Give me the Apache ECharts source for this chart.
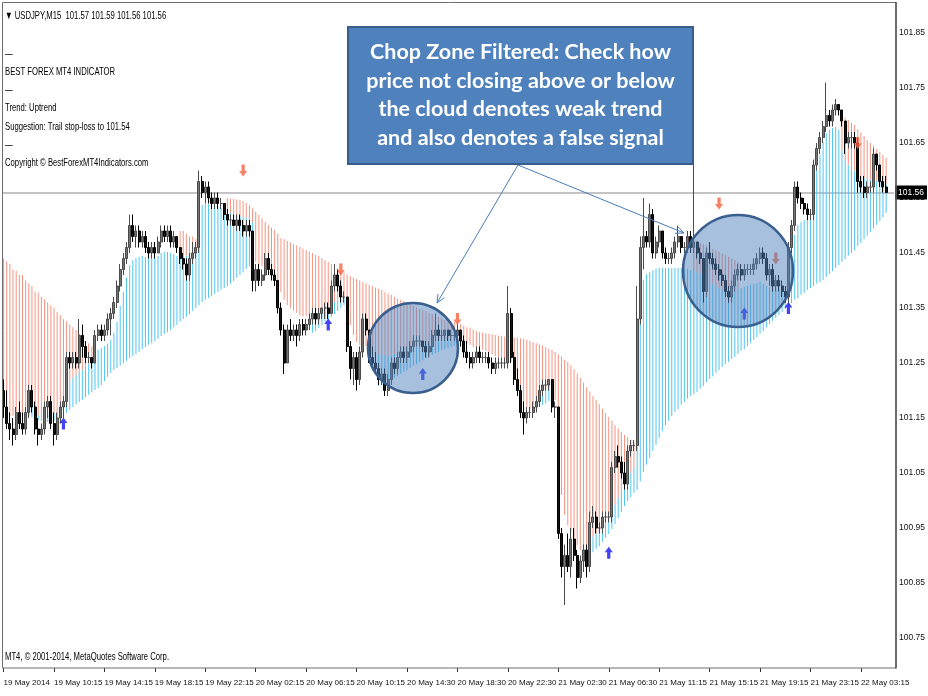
<!DOCTYPE html>
<html><head><meta charset="utf-8">
<script src="https://cdn.jsdelivr.net/npm/echarts@6/dist/echarts.min.js"></script>
<style>html,body{margin:0;padding:0;background:#fff}#c{width:928px;height:696px}</style>
</head><body><div id="c"></div>
<script>
const tickLabels = ['19 May 2014','19 May 10:15','19 May 14:15','19 May 18:15','19 May 22:15','20 May 02:15','20 May 06:15','20 May 10:15','20 May 14:30','20 May 18:30','20 May 22:30','21 May 02:30','21 May 06:30','21 May 11:15','21 May 15:15','21 May 19:15','21 May 23:15','22 May 03:15'];
const slotCount = 283;

const opens = [
101.20,101.17,101.14,101.13,101.12,101.16,101.14,101.13,101.16,101.20,
101.17,101.13,101.12,101.13,101.17,101.18,101.14,101.12,101.15,101.17,
101.18,101.26,101.25,101.26,101.25,101.30,101.28,101.26,101.26,101.25,
101.30,101.31,101.30,101.31,101.33,101.34,101.36,101.39,101.42,101.44,
101.46,101.50,101.48,101.49,101.47,101.48,101.46,101.45,101.46,101.45,
101.47,101.49,101.48,101.49,101.47,101.48,101.46,101.44,101.43,101.41,
101.44,101.45,101.46,101.58,101.56,101.57,101.55,101.54,101.55,101.54,
101.54,101.52,101.51,101.51,101.50,101.51,101.50,101.49,101.50,101.49,
101.40,101.42,101.40,101.41,101.44,101.42,101.41,101.40,101.35,101.31,
101.25,101.31,101.30,101.31,101.30,101.32,101.31,101.32,101.33,101.34,
101.33,101.34,101.35,101.35,101.34,101.39,101.41,101.39,101.37,101.37,
101.28,101.24,101.26,101.22,101.27,101.33,101.31,101.26,101.25,101.24,
101.22,101.23,101.20,101.22,101.25,101.24,101.26,101.27,101.26,101.27,
101.28,101.29,101.29,101.29,101.28,101.27,101.28,101.30,101.31,101.30,
101.30,101.31,101.30,101.30,101.30,101.31,101.29,101.27,101.26,101.25,
101.26,101.27,101.26,101.26,101.26,101.25,101.24,101.25,101.25,101.25,
101.25,101.34,101.26,101.22,101.20,101.16,101.15,101.16,101.16,101.17,
101.18,101.20,101.21,101.21,101.22,101.17,101.17,100.94,100.88,100.90,
100.88,100.93,100.90,100.86,100.89,100.91,100.88,100.96,100.97,100.95,
100.95,100.97,100.97,100.97,101.06,101.08,101.07,101.05,101.03,101.09,
101.10,101.10,101.33,101.46,101.48,101.47,101.52,101.45,101.47,101.49,
101.45,101.44,101.44,101.45,101.47,101.48,101.46,101.46,101.48,101.46,
101.47,101.45,101.44,101.38,101.45,101.44,101.43,101.42,101.41,101.40,
101.38,101.37,101.39,101.41,101.42,101.41,101.42,101.42,101.42,101.43,
101.44,101.45,101.44,101.41,101.42,101.39,101.40,101.39,101.38,101.37,
101.46,101.50,101.57,101.55,101.54,101.53,101.52,101.52,101.61,101.64,
101.66,101.68,101.70,101.69,101.71,101.72,101.71,101.69,101.65,101.66,
101.66,101.65,101.58,101.57,101.56,101.57,101.57,101.63,101.61,101.58,
101.57];
const highs = [
101.22,101.20,101.16,101.15,101.17,101.18,101.16,101.17,101.21,101.21,
101.18,101.15,101.14,101.18,101.19,101.19,101.16,101.16,101.18,101.19,
101.27,101.27,101.27,101.27,101.33,101.32,101.29,101.27,101.26,101.31,
101.32,101.32,101.32,101.34,101.35,101.37,101.40,101.43,101.45,101.47,
101.52,101.52,101.50,101.50,101.49,101.49,101.47,101.47,101.47,101.48,
101.50,101.50,101.50,101.50,101.49,101.48,101.46,101.45,101.44,101.45,
101.47,101.47,101.60,101.59,101.58,101.58,101.56,101.56,101.56,101.55,
101.54,101.53,101.52,101.52,101.52,101.52,101.51,101.51,101.51,101.49,
101.43,101.43,101.42,101.45,101.45,101.43,101.42,101.40,101.36,101.32,
101.32,101.33,101.32,101.32,101.33,101.33,101.33,101.34,101.35,101.35,
101.35,101.35,101.36,101.36,101.40,101.43,101.42,101.40,101.38,101.37,
101.29,101.27,101.27,101.28,101.34,101.34,101.31,101.28,101.27,101.25,
101.24,101.24,101.23,101.26,101.26,101.27,101.28,101.28,101.28,101.29,
101.30,101.30,101.30,101.29,101.29,101.29,101.31,101.34,101.32,101.31,
101.31,101.31,101.31,101.31,101.32,101.31,101.30,101.29,101.27,101.27,
101.28,101.28,101.27,101.27,101.27,101.26,101.26,101.26,101.26,101.26,
101.39,101.35,101.27,101.24,101.21,101.18,101.17,101.17,101.18,101.19,
101.21,101.22,101.22,101.22,101.22,101.18,101.17,100.95,100.92,100.94,
100.95,100.95,100.91,100.90,100.92,100.92,100.98,100.99,100.98,100.96,
100.98,100.98,100.98,101.07,101.09,101.10,101.08,101.07,101.10,101.11,
101.11,101.39,101.48,101.55,101.49,101.54,101.53,101.48,101.50,101.49,
101.46,101.45,101.46,101.48,101.50,101.48,101.47,101.49,101.49,101.61,
101.47,101.46,101.44,101.46,101.47,101.45,101.44,101.43,101.42,101.41,
101.39,101.40,101.42,101.43,101.43,101.43,101.43,101.43,101.44,101.45,
101.46,101.46,101.45,101.43,101.43,101.41,101.41,101.40,101.39,101.47,
101.51,101.58,101.58,101.56,101.55,101.54,101.53,101.62,101.65,101.67,
101.69,101.76,101.71,101.72,101.73,101.72,101.71,101.69,101.67,101.67,
101.67,101.66,101.59,101.59,101.58,101.58,101.64,101.63,101.61,101.59,
101.59];
const lows = [
101.15,101.13,101.11,101.10,101.11,101.13,101.12,101.12,101.15,101.16,
101.12,101.10,101.11,101.12,101.15,101.13,101.10,101.11,101.14,101.15,
101.17,101.24,101.24,101.24,101.24,101.26,101.25,101.25,101.24,101.25,
101.29,101.29,101.29,101.30,101.30,101.33,101.35,101.38,101.41,101.43,
101.45,101.47,101.46,101.46,101.46,101.45,101.44,101.44,101.44,101.45,
101.46,101.47,101.47,101.46,101.46,101.45,101.43,101.42,101.40,101.40,
101.43,101.44,101.45,101.55,101.54,101.54,101.53,101.53,101.53,101.53,
101.51,101.50,101.50,101.50,101.49,101.49,101.48,101.48,101.48,101.38,
101.38,101.39,101.39,101.40,101.41,101.40,101.39,101.34,101.30,101.23,
101.25,101.29,101.29,101.28,101.29,101.30,101.30,101.31,101.32,101.32,
101.32,101.33,101.33,101.33,101.34,101.38,101.38,101.36,101.36,101.27,
101.22,101.21,101.20,101.21,101.26,101.30,101.25,101.24,101.23,101.21,
101.21,101.19,101.19,101.21,101.23,101.23,101.25,101.25,101.25,101.26,
101.27,101.28,101.28,101.27,101.26,101.26,101.27,101.29,101.29,101.29,
101.29,101.29,101.29,101.29,101.29,101.28,101.26,101.25,101.24,101.24,
101.25,101.25,101.25,101.25,101.24,101.23,101.23,101.24,101.24,101.24,
101.24,101.25,101.21,101.19,101.15,101.12,101.14,101.15,101.15,101.16,
101.17,101.19,101.20,101.20,101.16,101.15,100.93,100.86,100.81,100.87,
100.86,100.89,100.84,100.85,100.87,100.86,100.87,100.95,100.94,100.94,
100.94,100.96,100.96,100.96,101.05,101.06,101.04,101.02,101.02,101.08,
101.09,101.09,101.32,101.42,101.46,101.46,101.44,101.44,101.46,101.44,
101.43,101.43,101.43,101.44,101.46,101.45,101.45,101.45,101.45,101.45,
101.44,101.43,101.36,101.37,101.43,101.42,101.41,101.40,101.39,101.37,
101.36,101.36,101.38,101.40,101.40,101.40,101.41,101.41,101.41,101.42,
101.43,101.43,101.40,101.39,101.38,101.38,101.38,101.37,101.36,101.36,
101.45,101.49,101.54,101.53,101.52,101.51,101.51,101.51,101.60,101.63,
101.65,101.67,101.68,101.68,101.70,101.70,101.68,101.63,101.64,101.64,
101.64,101.56,101.56,101.55,101.55,101.56,101.56,101.60,101.57,101.56,
101.56];
const closes = [
101.17,101.14,101.13,101.12,101.16,101.14,101.13,101.16,101.20,101.17,
101.13,101.12,101.13,101.17,101.18,101.14,101.12,101.15,101.17,101.18,
101.26,101.25,101.26,101.25,101.30,101.28,101.26,101.26,101.25,101.30,
101.31,101.30,101.31,101.33,101.34,101.36,101.39,101.42,101.44,101.46,
101.50,101.48,101.49,101.47,101.48,101.46,101.45,101.46,101.45,101.47,
101.49,101.48,101.49,101.47,101.48,101.46,101.44,101.43,101.41,101.44,
101.45,101.46,101.58,101.56,101.57,101.55,101.54,101.55,101.54,101.54,
101.52,101.51,101.51,101.50,101.51,101.50,101.49,101.50,101.49,101.40,
101.42,101.40,101.41,101.44,101.42,101.41,101.40,101.35,101.31,101.25,
101.31,101.30,101.31,101.30,101.32,101.31,101.32,101.33,101.34,101.33,
101.34,101.35,101.35,101.34,101.39,101.41,101.39,101.37,101.37,101.28,
101.24,101.26,101.22,101.27,101.33,101.31,101.26,101.25,101.24,101.22,
101.23,101.20,101.22,101.25,101.24,101.26,101.27,101.26,101.27,101.28,
101.29,101.29,101.29,101.28,101.27,101.28,101.30,101.31,101.30,101.30,
101.31,101.30,101.30,101.30,101.31,101.29,101.27,101.26,101.25,101.26,
101.27,101.26,101.26,101.26,101.25,101.24,101.25,101.25,101.25,101.25,
101.34,101.26,101.22,101.20,101.16,101.15,101.16,101.16,101.17,101.18,
101.20,101.21,101.21,101.22,101.17,101.17,100.94,100.88,100.90,100.88,
100.93,100.90,100.86,100.89,100.91,100.88,100.96,100.97,100.95,100.95,
100.97,100.97,100.97,101.06,101.08,101.07,101.05,101.03,101.09,101.10,
101.10,101.33,101.46,101.48,101.47,101.52,101.45,101.47,101.49,101.45,
101.44,101.44,101.45,101.47,101.48,101.46,101.46,101.48,101.46,101.47,
101.45,101.44,101.38,101.45,101.44,101.43,101.42,101.41,101.40,101.38,
101.37,101.39,101.41,101.42,101.41,101.42,101.42,101.42,101.43,101.44,
101.45,101.44,101.41,101.42,101.39,101.40,101.39,101.38,101.37,101.46,
101.50,101.57,101.55,101.54,101.53,101.52,101.52,101.61,101.64,101.66,
101.68,101.70,101.69,101.71,101.72,101.71,101.69,101.65,101.66,101.66,
101.65,101.58,101.57,101.56,101.57,101.57,101.63,101.61,101.58,101.57,
101.56];

// cloud lines: red stop line (above), fast line, blue stop line (below)
const N = null;
const cloudUpper = [
101.44,101.435,101.43,101.42,101.418,101.41,101.41,101.40,101.395,101.39,
101.38,101.378,101.37,101.366,101.36,101.355,101.35,101.343,101.337,101.33,
101.326,101.32,101.315,101.31,101.303,101.297,101.29,101.286,101.28,101.274,
N,N,N,N,N,N,N,N,N,N,
N,N,N,N,N,N,N,N,N,N,
N,N,N,N,N,N,101.49,101.49,101.485,101.48,
101.48,101.475,N,N,N,N,N,N,N,N,
N,101.55,101.549,101.548,101.547,101.546,101.544,101.541,101.537,101.531,
101.525,101.519,101.513,101.506,101.501,101.496,101.492,101.485,101.477,101.475,
101.472,101.469,101.466,101.464,101.461,101.458,101.455,101.453,101.45,101.447,
101.445,101.441,101.437,101.434,101.43,101.426,101.422,101.417,101.414,101.411,
101.408,101.405,101.403,101.40,101.397,101.395,101.392,101.39,101.387,101.385,
101.383,101.379,101.376,101.374,101.37,101.367,101.365,101.362,101.359,101.356,
101.354,101.351,101.348,101.346,101.344,101.341,101.339,101.336,101.334,101.331,
101.328,101.326,101.325,101.325,101.323,101.321,101.318,101.315,101.314,101.311,
101.308,101.306,101.305,101.304,101.303,101.302,101.301,101.30,101.299,101.298,
101.297,101.297,101.296,101.296,101.295,101.294,101.292,101.29,101.288,101.286,
101.284,101.282,101.279,101.276,101.274,101.27,101.266,101.262,101.256,101.252,
101.246,101.239,101.231,101.223,101.214,101.206,101.198,101.19,101.183,101.175,
101.167,101.159,101.152,101.145,101.137,101.131,101.125,101.119,101.115,101.11,
101.106,N,N,N,N,N,N,N,N,N,
N,N,N,N,N,N,N,N,N,101.474,
101.471,101.468,101.466,101.463,101.46,101.457,101.455,101.452,101.449,101.446,
101.443,101.44,101.437,101.434,N,N,N,N,N,N,
N,N,N,N,N,N,N,N,N,N,
N,N,N,N,N,N,N,N,N,N,
N,N,N,N,N,N,101.701,101.696,101.692,101.687,
101.683,101.675,101.669,101.663,101.655,101.65,101.645,101.639,101.634,101.628,
101.623];
const cloudFast = [
101.159,101.157,101.155,101.154,101.152,101.152,101.154,101.168,101.174,101.172,
101.165,101.155,101.15,101.155,101.159,101.161,101.159,101.159,101.161,101.165,
101.21,101.215,101.223,101.228,101.234,101.237,101.243,101.248,101.254,101.261,
101.274,101.277,101.281,101.285,101.292,101.305,101.325,101.354,101.379,101.405,
101.428,101.437,101.441,101.443,101.445,101.443,101.441,101.441,101.441,101.445,
101.45,101.452,101.452,101.45,101.448,101.445,101.452,101.448,101.445,101.446,
101.45,101.452,101.525,101.537,101.539,101.539,101.537,101.535,101.534,101.532,
101.528,101.525,101.523,101.521,101.519,101.517,101.515,101.514,101.512,101.506,
101.434,101.428,101.426,101.426,101.423,101.415,101.406,101.395,101.379,101.365,
101.355,101.35,101.345,101.341,101.337,101.335,101.335,101.337,101.343,101.345,
101.346,101.348,101.35,101.352,101.355,101.361,101.365,101.368,101.37,101.346,
101.319,101.301,101.288,101.283,101.283,101.281,101.275,101.272,101.268,101.266,
101.265,101.263,101.263,101.265,101.266,101.268,101.27,101.272,101.274,101.275,
101.277,101.279,101.281,101.283,101.285,101.286,101.288,101.29,101.292,101.294,
101.295,101.295,101.295,101.295,101.294,101.292,101.29,101.286,101.283,101.279,
101.277,101.275,101.274,101.272,101.27,101.266,101.263,101.261,101.259,101.259,
101.259,101.252,101.237,101.219,101.197,101.179,101.17,101.166,101.165,101.165,
101.192,101.197,101.201,101.201,101.197,101.183,101.074,101.01,100.974,100.955,
100.943,100.932,100.919,100.91,100.905,100.901,100.928,100.934,100.939,100.945,
100.95,100.957,100.966,100.977,100.992,101.005,101.017,101.028,101.039,101.05,
101.059,101.31,101.374,101.401,101.412,101.415,101.419,101.421,101.423,101.423,
101.423,101.423,101.423,101.423,101.423,101.423,101.421,101.421,101.419,101.419,
101.415,101.412,101.406,101.401,101.397,101.394,101.39,101.386,101.383,101.381,
101.379,101.379,101.381,101.383,101.386,101.388,101.39,101.392,101.394,101.395,
101.397,101.394,101.39,101.388,101.386,101.385,101.383,101.381,101.379,101.383,
101.434,101.483,101.501,101.506,101.51,101.512,101.514,101.555,101.601,101.628,
101.652,101.668,101.674,101.677,101.679,101.674,101.637,101.619,101.61,101.605,
101.599,101.594,101.59,101.586,101.585,101.583,101.583,101.581,101.579,101.577,
101.575];
const cloudLower = [
N,N,N,N,N,N,N,101.155,101.154,101.152,
101.148,101.146,101.145,101.143,101.143,101.143,101.145,101.146,101.148,101.152,
101.159,101.165,101.17,101.175,101.179,101.183,101.188,101.192,101.197,101.201,
101.205,101.21,101.217,101.225,101.232,101.237,101.241,101.245,101.25,101.254,
101.259,101.263,101.266,101.27,101.275,101.279,101.283,101.286,101.29,101.294,
101.299,101.303,101.306,101.31,101.315,101.319,101.325,101.33,101.334,101.339,
101.345,101.35,101.355,101.361,101.365,101.368,101.372,101.375,101.379,101.383,
101.386,101.39,101.394,101.399,101.405,101.41,101.415,101.421,101.426,101.432,
N,N,N,N,N,N,N,N,N,N,
N,N,N,N,N,N,N,N,101.305,101.308,
101.314,101.319,101.325,101.328,101.334,101.339,101.345,101.35,101.355,N,
N,N,N,N,N,N,N,N,N,101.208,
101.21,101.212,101.215,101.219,101.223,101.226,101.23,101.234,101.237,101.241,
101.245,101.248,101.252,101.255,101.259,101.261,101.265,101.268,101.27,101.274,
101.275,101.277,101.279,101.281,101.283,101.283,101.283,N,N,N,
N,N,N,N,N,N,N,N,N,N,
N,N,N,N,N,N,N,N,N,N,
101.17,101.174,101.177,101.181,101.183,N,N,N,N,N,
N,N,N,N,N,N,100.901,100.906,100.912,100.917,
100.925,100.932,100.939,100.948,100.957,100.968,100.979,100.99,100.999,101.006,
101.014,101.019,101.035,101.052,101.065,101.077,101.09,101.101,101.114,101.126,
101.137,101.145,101.154,101.161,101.166,101.174,101.179,101.185,101.19,101.194,
101.197,101.203,101.208,101.215,101.221,101.226,101.232,101.237,101.243,101.248,
101.252,101.257,101.261,101.266,101.272,101.275,101.281,101.286,101.292,101.297,
101.303,101.308,101.315,101.321,101.326,101.332,101.337,101.343,101.348,101.354,
101.359,101.365,101.368,101.374,101.377,101.383,101.386,101.39,101.394,101.397,
101.401,101.406,101.412,101.417,101.423,101.428,101.434,101.439,101.445,101.45,
101.455,101.463,101.468,101.475,101.481,101.488,101.495,101.501,101.508,101.515,
101.523];

const sellIdx = [76, 107, 144, 227, 245, 271];
const sellPrice = [101.60, 101.42, 101.33, 101.54, 101.44, 101.65];
const buyIdx = [19, 103, 133, 192, 235, 249];
const buyPrice = [101.14, 101.32, 101.23, 100.905, 101.34, 101.35];
const lastPrice = 101.56;
const axisMin = 100.70, axisMax = 101.90;

const infoLines = ['▼ USDJPY,M15  101.57 101.59 101.56 101.56', '—', 'BEST FOREX MT4 INDICATOR', '—', 'Trend: Uptrend', 'Suggestion: Trail stop-loss to 101.54', '—', 'Copyright © BestForexMT4Indicators.com'];
const calloutLines = ['Chop Zone Filtered: Check how', 'price not closing above or below', 'the cloud denotes weak trend', 'and also denotes a false signal'];

// ---------- build ----------
const categories = Array.from({length: slotCount}, (_, i) => (i % 16 === 0 && tickLabels[i / 16]) ? tickLabels[i / 16] : '');
const candleData = opens.map((o, i) => [o, closes[i], lows[i], highs[i]]);
const redData = [], blueData = [];
cloudFast.forEach((f, i) => {
  if (cloudUpper[i] !== null) redData.push([i, cloudUpper[i], f]);
  if (cloudLower[i] !== null) blueData.push([i, f, cloudLower[i]]);
});
const SANS = "'Liberation Sans', Arial, sans-serif";

function cloudRenderer(color) {
  return function (params, api) {
    const i = api.value(0);
    const a = api.coord([i, api.value(1)]);
    const b = api.coord([i, api.value(2)]);
    return { type: 'line', shape: { x1: a[0], y1: a[1], x2: b[0], y2: b[1] }, style: { stroke: color, lineWidth: 1 } };
  };
}
function arrowHead(x1, y1, x2, y2, len, ang) {
  const a = Math.atan2(y1 - y2, x1 - x2);
  return [[x2 + len * Math.cos(a + ang), y2 + len * Math.sin(a + ang)], [x2, y2], [x2 + len * Math.cos(a - ang), y2 + len * Math.sin(a - ang)]];
}
function smallText(t, x, y) {
  return { type: 'text', z: 50, silent: true, x: x, y: y, scaleX: 0.7, style: { text: t, x: 0, y: 0, fill: '#000', fontSize: 11, fontFamily: SANS, verticalAlign: 'middle' } };
}

const infoY = [16, 54, 72, 90, 108, 127, 145, 163];
const graphics = [
  { type: 'rect', z: 50, silent: true, shape: { x: 2.5, y: 2.5, width: 893.5, height: 665.5 }, style: { fill: 'none', stroke: '#6e6e6e', lineWidth: 1 } },
  { type: 'line', z: 50, silent: true, shape: { x1: 896, y1: 2, x2: 896, y2: 668.5 }, style: { stroke: '#555', lineWidth: 1.5 } }
];
infoLines.forEach((t, k) => graphics.push(smallText(t, 5, infoY[k])));
graphics.push(smallText('MT4, © 2001-2014, MetaQuotes Software Corp.', 5, 657));
// ellipses
graphics.push({ type: 'ellipse', z: 60, silent: true, shape: { cx: 413, cy: 348, rx: 45, ry: 45 }, style: { fill: 'rgba(79,129,189,0.5)', stroke: '#3A5F8E', lineWidth: 2.5 } });
graphics.push({ type: 'ellipse', z: 60, silent: true, shape: { cx: 738, cy: 271, rx: 55, ry: 56 }, style: { fill: 'rgba(79,129,189,0.5)', stroke: '#3A5F8E', lineWidth: 2.5 } });
// connectors
[[518, 165, 437, 303], [518, 165, 684, 233]].forEach(s => {
  graphics.push({ type: 'line', z: 61, silent: true, shape: { x1: s[0], y1: s[1], x2: s[2], y2: s[3] }, style: { stroke: '#4A7EBB', lineWidth: 1 } });
  graphics.push({ type: 'polyline', z: 61, silent: true, shape: { points: arrowHead(s[0], s[1], s[2], s[3], 9, 0.42) }, style: { stroke: '#4A7EBB', lineWidth: 1, fill: 'none' } });
});
// callout box
graphics.push({ type: 'rect', z: 62, silent: true, shape: { x: 348, y: 27, width: 345, height: 137 }, style: { fill: '#4F81BD', stroke: '#385D8A', lineWidth: 2 } });
graphics.push({ type: 'text', z: 63, silent: true, style: { text: calloutLines.join('\n'), x: 520.5, y: 95, align: 'center', verticalAlign: 'middle', fill: '#fff', fontSize: 21.5, fontWeight: 'bold', fontFamily: 'Lato, "Open Sans", sans-serif', lineHeight: 28.7 } });

const chart = echarts.init(document.getElementById('c'), null, { renderer: 'canvas' });
chart.setOption({
  animation: false,
  backgroundColor: '#fff',
  grid: { left: 2, right: 32, top: 5.5, bottom: 30.5, containLabel: false },
  xAxis: {
    type: 'category', data: categories, boundaryGap: true, offset: 2.5,
    axisLine: { show: false },
    axisTick: { show: true, interval: 15, alignWithLabel: true, length: 4, lineStyle: { color: '#333' } },
    axisLabel: { interval: 15, align: 'left', margin: 11, fontSize: 8, color: '#111', fontFamily: SANS, showMinLabel: true, hideOverlap: false },
    splitLine: { show: false }
  },
  yAxis: {
    type: 'value', position: 'right', min: axisMin, max: axisMax, interval: 0.05, scale: true,
    axisLine: { show: false }, axisTick: { show: false }, splitLine: { show: false },
    axisLabel: { margin: 5, fontSize: 8.5, color: '#111', fontFamily: SANS,
      formatter: v => (Math.round(v * 100) % 10 === 5 ? v.toFixed(2) : '') }
  },
  series: [
    { type: 'custom', name: 'down cloud', z: 1, silent: true, renderItem: cloudRenderer('#F8927F'), data: redData, encode: { x: 0, y: [1, 2] },
      markLine: { silent: true, symbol: 'none', z: 1, lineStyle: { color: '#c4c4c4', width: 2, type: 'solid' },
        label: { show: true, position: 'end', distance: 1, formatter: lastPrice.toFixed(2), color: '#fff', backgroundColor: '#000', padding: [3, 3, 2, 3], fontSize: 8.5, fontFamily: SANS },
        data: [{ yAxis: lastPrice }] } },
    { type: 'custom', name: 'up cloud', z: 1, silent: true, renderItem: cloudRenderer('#4EC6F3'), data: blueData, encode: { x: 0, y: [1, 2] } },
    { type: 'candlestick', name: 'USDJPY', z: 3, barWidth: 2.5, data: candleData,
      itemStyle: { color: '#747474', color0: '#151515', borderColor: '#4a4a4a', borderColor0: '#000', borderWidth: 1 } },
    { type: 'scatter', name: 'sell', z: 4, silent: true, symbol: 'path://M3,0L7,0L7,7L10,7L5,13L0,7L3,7Z', symbolSize: [8, 12],
      itemStyle: { color: '#F5603F' }, data: sellIdx.map((x, k) => [x, sellPrice[k]]) },
    { type: 'scatter', name: 'buy', z: 4, silent: true, symbol: 'path://M5,0L10,6L7,6L7,13L3,13L3,6L0,6Z', symbolSize: [8, 12],
      itemStyle: { color: '#1414F0' }, data: buyIdx.map((x, k) => [x, buyPrice[k]]) }
  ],
  graphic: { elements: graphics }
});
</script></body></html>
